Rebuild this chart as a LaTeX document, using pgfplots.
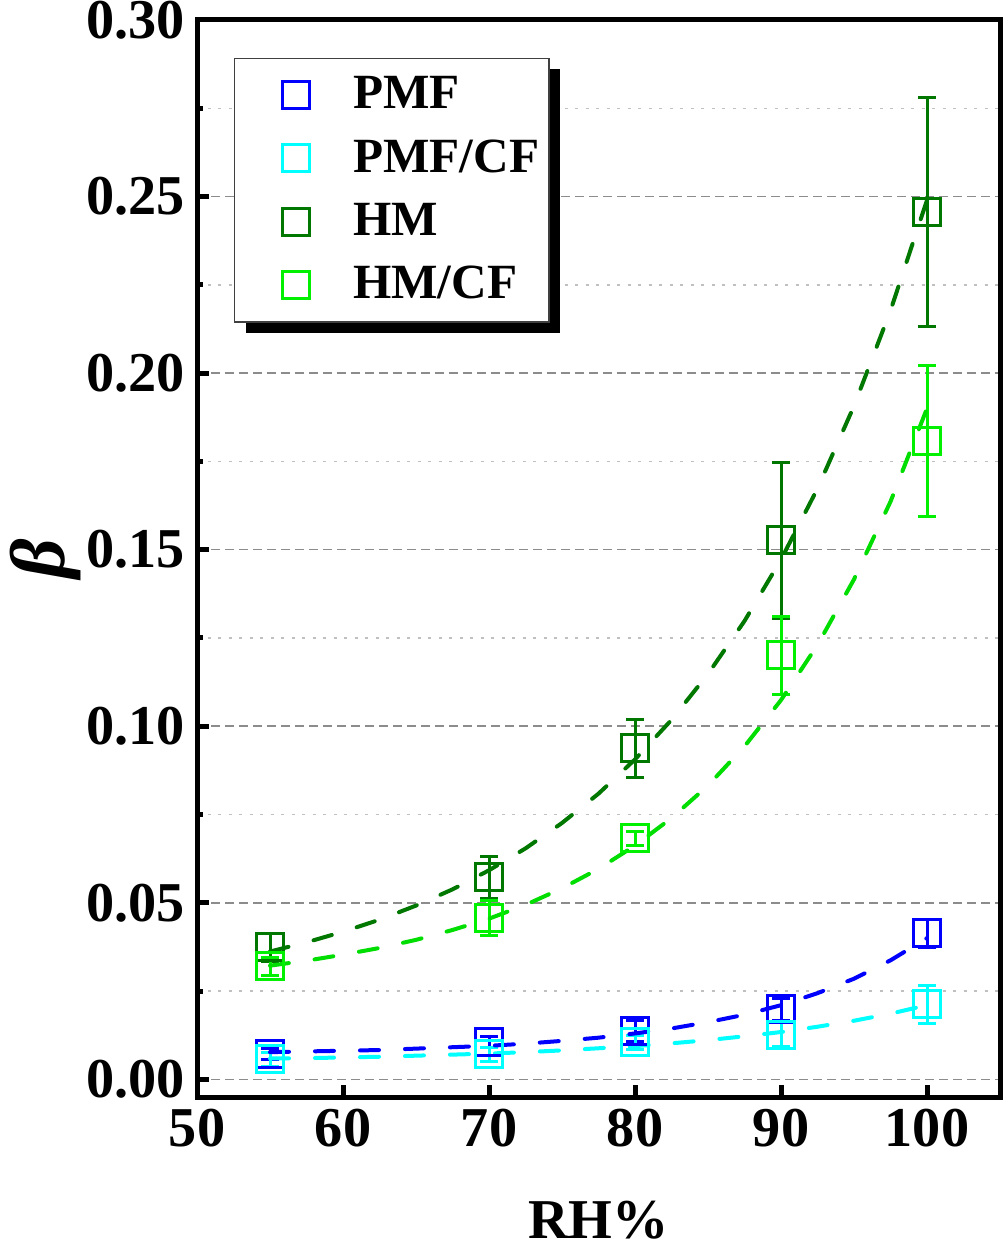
\documentclass[border=0pt]{standalone}
\usepackage{fontspec}
\setmainfont{Liberation Serif}
\usepackage{pgfplots}
\pgfplotsset{compat=1.18}
\usetikzlibrary{shadows}
\definecolor{cPMF}{HTML}{0000FF}
\definecolor{cPMFCF}{HTML}{00FFFF}
\definecolor{cHM}{HTML}{007800}
\definecolor{cHMCF}{HTML}{00F000}
\definecolor{GridMaj}{HTML}{8C8C8C}
\definecolor{GridMin}{HTML}{C0C0C0}
\newcommand{\bigfont}{\fontsize{16}{19}\selectfont\bfseries}
\pgfplotsset{
  pts/.style={only marks,mark=square,mark size=1.35mm,mark options={solid,line width=0.3mm},
    error bars/y dir=both,error bars/y explicit,
    error bars/error mark options={rotate=90,mark size=0.9mm,line width=0.3mm,solid},
    error bars/error bar style={line width=0.3mm,solid}},
  fit/.style={forget plot,no marks,line width=0.4mm,line cap=round,dash pattern=on 1.9mm off 2.6mm},
}
\begin{document}
\begin{tikzpicture}
\begin{axis}[
  scale only axis, width=80.3mm, height=107.7mm,
  xmin=50, xmax=105, ymin=-0.005, ymax=0.30,
  xtick={50,60,70,80,90,100},
  ytick={0,0.05,0.10,0.15,0.20,0.25,0.30},
  minor ytick={0.025,0.075,0.125,0.175,0.225,0.275},
  xtick pos=lower, ytick pos=left, tick align=inside,
  major tick length=1.2mm, minor tick length=0.55mm,
  tick style={black,line width=0.5mm},
  axis line style={black,line width=0.5mm},
  ymajorgrids, yminorgrids,
  major grid style={GridMaj,line width=0.15mm,dash pattern=on 0.85mm off 0.55mm},
  minor grid style={GridMin,line width=0.15mm,dash pattern=on 0.3mm off 0.75mm},
  tick label style={font=\bigfont},
  /pgf/number format/assume math mode=true,
  yticklabel style={/pgf/number format/fixed,/pgf/number format/fixed zerofill,/pgf/number format/precision=2},
  xlabel={RH\%},
  xlabel style={font=\bigfont,at={(axis description cs:0.5,-0.114)},anchor=center},
  ylabel={\textit{β}},
  ylabel style={font=\fontsize{22}{25}\selectfont\bfseries,at={(axis description cs:-0.189,0.5)},anchor=center},
  legend cell align=left,
  legend image code/.code={\draw[#1] plot coordinates {(0.58cm,0cm)}; \path (0cm,0cm) (1.07cm,0cm);},
  legend style={at={(axis description cs:0.046,0.965)},anchor=north west,
    draw=black!75,line width=0.15mm,fill=white,font=\fontsize{14}{17}\selectfont\bfseries,
    drop shadow={shadow xshift=1.1mm,shadow yshift=-1.1mm,fill=black,opacity=1},
    inner xsep=0.3mm,inner ysep=1.1mm,row sep=1.15mm},
]
% measured points
\addplot[pts,cPMF] coordinates {
 (55,0.0071) +- (0,0.0015)
 (70,0.0105) +- (0,0.0015)
 (80,0.0136) +- (0,0.0030)
 (90,0.0198) +- (0,0.0030)
 (100,0.0414) +- (0,0.0040)
};
\addlegendentry{PMF}
\addplot[pts,cPMFCF] coordinates {
 (55,0.0057) +- (0,0.0020)
 (70,0.0071) +- (0,0.0020)
 (80,0.0105) +- (0,0.0020)
 (90,0.0127) +- (0,0.0035)
 (100,0.0212) +- (0,0.0055)
};
\addlegendentry{PMF/CF}
\addplot[pts,cHM] coordinates {
 (55,0.0374) +- (0,0.0040)
 (70,0.0572) +- (0,0.0060)
 (80,0.0938) +- (0,0.0082)
 (90,0.1527) +- (0,0.0221)
 (100,0.2456) +- (0,0.0325)
};
\addlegendentry{HM}
\addplot[pts,cHMCF] coordinates {
 (55,0.0320) +- (0,0.0025)
 (70,0.0456) +- (0,0.0050)
 (80,0.0683) +- (0,0.0020)
 (90,0.1201) +- (0,0.0110)
 (100,0.1807) +- (0,0.0214)
};
\addlegendentry{HM/CF}
% fitted curves
\addplot[fit,cPMF] coordinates {
 (55,0.0077)(57.5,0.0079)(60,0.0081)(62.5,0.0083)(65,0.0087)(67.5,0.0091)
 (70,0.0095)(72.5,0.0101)(75,0.0109)(77.5,0.0118)(80,0.0130)(82.5,0.0144)
 (85,0.0162)(87.5,0.0183)(90,0.0210)(92.5,0.0244)(95,0.0285)(97.5,0.0337)(100,0.0400)};
\addplot[fit,cPMFCF] coordinates {
 (55,0.0059)(57.5,0.0060)(60,0.0062)(62.5,0.0064)(65,0.0067)(67.5,0.0070)
 (70,0.0073)(72.5,0.0077)(75,0.0082)(77.5,0.0088)(80,0.0094)(82.5,0.0102)
 (85,0.0111)(87.5,0.0122)(90,0.0134)(92.5,0.0149)(95,0.0166)(97.5,0.0186)(100,0.0210)};
\addplot[fit,cHM] coordinates {
 (55,0.0362)(57.5,0.0388)(60,0.0418)(62.5,0.0452)(65,0.0492)(67.5,0.0538)
 (70,0.0592)(72.5,0.0654)(75,0.0726)(77.5,0.0809)(80,0.0906)(82.5,0.1018)
 (85,0.1148)(87.5,0.1298)(90,0.1472)(92.5,0.1673)(95,0.1907)(97.5,0.2177)(100,0.2490)};
\addplot[fit,cHMCF!92!black] coordinates {
 (55,0.0322)(57.5,0.0336)(60,0.0353)(62.5,0.0372)(65,0.0395)(67.5,0.0423)
 (70,0.0455)(72.5,0.0494)(75,0.0541)(77.5,0.0596)(80,0.0662)(82.5,0.0740)
 (85,0.0832)(87.5,0.0943)(90,0.1074)(92.5,0.1230)(95,0.1416)(97.5,0.1636)(100,0.1900)};
\end{axis}
\pgfresetboundingbox
\path (-19.7mm,-14.8mm) rectangle (80.6mm,109.7mm);
\end{tikzpicture}
\end{document}
